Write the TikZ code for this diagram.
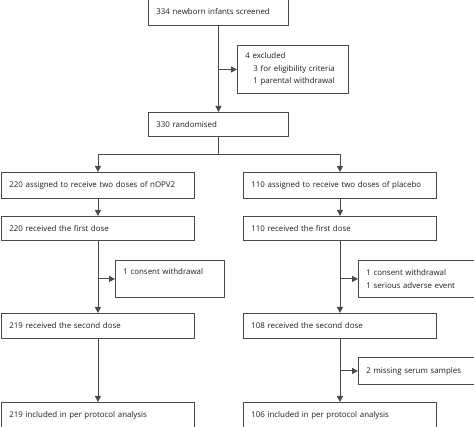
\documentclass[tikz,border=0pt]{standalone}
\usepackage{fontspec}
\setmainfont{Open Sans}
\usetikzlibrary{arrows.meta}
\definecolor{boxline}{HTML}{4a4a4a}
\definecolor{boxtext}{HTML}{1e1e1e}
\tikzset{
  flowbox/.style={draw=boxline, line width=0.9pt, anchor=north west, align=left,
    inner xsep=8pt, inner ysep=0pt, text=boxtext, font=\fontsize{7.9}{12.5}\selectfont},
  arr/.style={draw=boxline, line width=0.9pt, -{Triangle[length=6pt,width=6pt]}}
}
\begin{document}
\begin{tikzpicture}[x=1pt, y=-1pt]
\useasboundingbox (0,0) rectangle (474,427);
\clip (0,0) rectangle (474,427);

\node[flowbox, text width=124pt, minimum height=27pt] (screened_box) at (148,-2) {334 newborn infants screened};
\node[flowbox, text width=95pt, minimum height=48pt] (excluded_box) at (237,45) {4 excluded\\\hspace*{8pt}3 for eligibility criteria\\\hspace*{8pt}1 parental withdrawal};
\node[flowbox, text width=124pt, minimum height=24pt] (rand_box) at (148,112) {330 randomised};

\node[flowbox, text width=177pt, minimum height=26pt] (nopv_assign_box) at (1,172) {220 assigned to receive two doses of nOPV2};
\node[flowbox, text width=177pt, minimum height=24pt] (nopv_first_box) at (1,216) {220 received the first dose};
\node[flowbox, text width=93pt, minimum height=37pt, text depth=14pt] (nopv_withdraw_box) at (115,260) {1 consent withdrawal};
\node[flowbox, text width=177pt, minimum height=25pt] (nopv_second_box) at (1,313) {219 received the second dose};
\node[flowbox, text width=177pt, minimum height=26pt] (nopv_pp_box) at (1,402) {219 included in per protocol analysis};

\node[flowbox, text width=177pt, minimum height=26pt] (plac_assign_box) at (243,172) {110 assigned to receive two doses of placebo};
\node[flowbox, text width=177pt, minimum height=24pt] (plac_first_box) at (243,216) {110 received the first dose};
\node[flowbox, text width=124pt, minimum height=37pt] (plac_withdraw_box) at (358,260) {1 consent withdrawal\\1 serious adverse event};
\node[flowbox, text width=177pt, minimum height=25pt] (plac_second_box) at (243,313) {108 received the second dose};
\node[flowbox, text width=124pt, minimum height=27pt] (plac_missing_box) at (358,357) {2 missing serum samples};
\node[flowbox, text width=177pt, minimum height=26pt] (plac_pp_box) at (243,402) {106 included in per protocol analysis};

\coordinate (split) at (218,154);

\draw[arr] (screened_box) -- (rand_box);
\draw[arr] (excluded_box.west -| screened_box.south) -- (excluded_box.west);
\draw[draw=boxline, line width=0.9pt] (rand_box.south) -- (rand_box.south |- split);
\draw[arr] (rand_box.south |- split) -| (nopv_assign_box.north);
\draw[arr] (rand_box.south |- split) -| (plac_assign_box.north);

\draw[arr] (nopv_assign_box) -- (nopv_first_box);
\draw[arr] (nopv_first_box) -- (nopv_second_box);
\draw[arr] (nopv_withdraw_box.west -| nopv_first_box.south) -- (nopv_withdraw_box.west);
\draw[arr] (nopv_second_box) -- (nopv_pp_box);

\draw[arr] (plac_assign_box) -- (plac_first_box);
\draw[arr] (plac_first_box) -- (plac_second_box);
\draw[arr] (plac_withdraw_box.west -| plac_first_box.south) -- (plac_withdraw_box.west);
\draw[arr] (plac_second_box) -- (plac_pp_box);
\draw[arr] (plac_missing_box.west -| plac_second_box.south) -- (plac_missing_box.west);
\end{tikzpicture}
\end{document}
